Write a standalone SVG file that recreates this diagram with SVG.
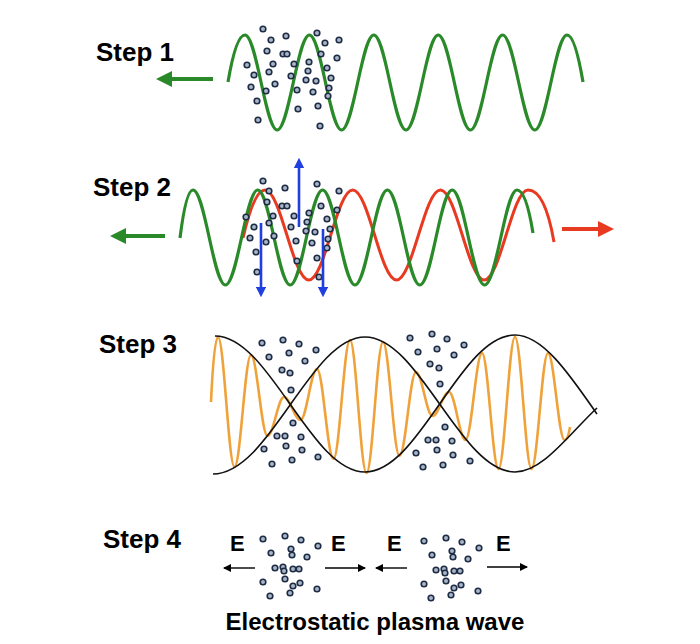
<svg xmlns="http://www.w3.org/2000/svg" width="700" height="644" viewBox="0 0 700 644">
<style>
.lbl{font-family:"Liberation Sans",Arial,sans-serif;font-weight:bold;font-size:26px;fill:#000}
.t{font-family:"Liberation Sans",Arial,sans-serif;font-weight:bold;font-size:24px;fill:#000}
.e{font-family:"Liberation Sans",Arial,sans-serif;font-weight:bold;font-size:22px;fill:#000}
.g{fill:none;stroke:#2a8a2a;stroke-width:3.2}
.r{fill:none;stroke:#e83a20;stroke-width:3}
.o{fill:none;stroke:#f0a23a;stroke-width:2.6}
.k{fill:none;stroke:#111;stroke-width:1.6}
.d circle{r:2.8;fill:#a9b6c8;stroke:#1d2b44;stroke-width:1.6}
</style>
<defs>
<marker id="ag" markerWidth="4" markerHeight="4" refX="2" refY="2" orient="auto"><path d="M0,0L4,2L0,4z" fill="#2a8a2a"/></marker>
<marker id="ar" markerWidth="4" markerHeight="4" refX="2" refY="2" orient="auto"><path d="M0,0L4,2L0,4z" fill="#e83a20"/></marker>
<marker id="ab" markerWidth="4" markerHeight="4" refX="2" refY="2" orient="auto"><path d="M0,0L4,2L0,4z" fill="#1f3fe0"/></marker>
<marker id="ak" markerWidth="8" markerHeight="8" refX="7" refY="4" orient="auto" markerUnits="userSpaceOnUse"><path d="M0,0L8,4L0,8z" fill="#000"/></marker>
</defs>
<rect width="700" height="644" fill="#fff"/>
<g id="step1">
<text class="lbl" x="96" y="61">Step 1</text>
<path class="g" d="M228,82 Q236,35 245,35 C256.7,35 265.5,130 277.2,130 S297.7,35 309.4,35 S329.9,130 341.6,130 S362.1,35 373.8,35 S394.3,130 406,130 S426.5,35 438.2,35 S458.7,130 470.4,130 S490.9,35 502.6,35 S523.1,130 534.8,130 S555.3,35 567,35 Q575,35 583,82"/>
<line x1="213" y1="79" x2="164" y2="79" stroke="#2a8a2a" stroke-width="4" marker-end="url(#ag)"/>
<g class="d">
<circle cx="263" cy="29"/><circle cx="271" cy="40"/><circle cx="286" cy="36"/><circle cx="317" cy="33"/><circle cx="325" cy="43"/><circle cx="339" cy="40"/><circle cx="267" cy="51"/><circle cx="283" cy="54"/><circle cx="287" cy="54"/><circle cx="321" cy="54"/><circle cx="337" cy="58"/><circle cx="247" cy="65"/><circle cx="273" cy="64"/><circle cx="294" cy="64"/><circle cx="309" cy="62"/><circle cx="269" cy="72"/><circle cx="254" cy="75"/><circle cx="291" cy="76"/><circle cx="308" cy="71"/><circle cx="327" cy="68"/><circle cx="306" cy="80"/><circle cx="316" cy="81"/><circle cx="331" cy="78"/><circle cx="251" cy="87"/><circle cx="275" cy="84"/><circle cx="266" cy="91"/><circle cx="297" cy="90"/><circle cx="313" cy="92"/><circle cx="329" cy="88"/><circle cx="328" cy="96"/><circle cx="257" cy="101"/><circle cx="318" cy="106"/><circle cx="298" cy="109"/><circle cx="258" cy="120"/><circle cx="320" cy="126"/>
</g>
</g>
<g id="step2">
<text class="lbl" x="93" y="196">Step 2</text>
<path class="r" d="M243,238 Q254,190 265,190 C281,190 292.8,280 308.8,280 S336.7,190 352.7,190 S380.5,280 396.5,280 S424.4,190 440.4,190 S468.2,280 484.2,280 S512,190 528,190 Q545,190 554,242"/>
<path class="g" d="M180,238 Q186,190 193,190 C204.8,190 213.6,285 225.4,285 S246,190 257.8,190 S278.4,285 290.2,285 S310.8,190 322.6,190 S343.2,285 355,285 S375.6,190 387.4,190 S408,285 419.8,285 S440.4,190 452.2,190 S472.8,285 484.6,285 S505.2,190 517,190 Q526,190 533,233"/>
<line x1="562" y1="229" x2="606" y2="229" stroke="#e83a20" stroke-width="4" marker-end="url(#ar)"/>
<line x1="165" y1="236" x2="118" y2="236" stroke="#2a8a2a" stroke-width="4" marker-end="url(#ag)"/>
<g class="d">
<circle cx="263" cy="181"/><circle cx="285" cy="188"/><circle cx="317" cy="184"/><circle cx="339" cy="191"/><circle cx="269" cy="191"/><circle cx="267" cy="202"/><circle cx="282" cy="206"/><circle cx="287" cy="206"/><circle cx="321" cy="206"/><circle cx="337" cy="210"/><circle cx="246" cy="217"/><circle cx="273" cy="216"/><circle cx="294" cy="216"/><circle cx="309" cy="213"/><circle cx="254" cy="227"/><circle cx="269" cy="223"/><circle cx="291" cy="227"/><circle cx="307" cy="222"/><circle cx="327" cy="219"/><circle cx="250" cy="238"/><circle cx="274" cy="236"/><circle cx="306" cy="231"/><circle cx="315" cy="232"/><circle cx="330" cy="229"/><circle cx="266" cy="242"/><circle cx="296" cy="241"/><circle cx="312" cy="243"/><circle cx="328" cy="239"/><circle cx="256" cy="252"/><circle cx="317" cy="258"/><circle cx="327" cy="248"/><circle cx="297" cy="261"/><circle cx="257" cy="272"/><circle cx="319" cy="277"/>
</g>
<line x1="299" y1="227" x2="299" y2="163" stroke="#1f3fe0" stroke-width="2.6" marker-end="url(#ab)"/>
<line x1="261" y1="223" x2="261" y2="292" stroke="#1f3fe0" stroke-width="2.6" marker-end="url(#ab)"/>
<line x1="323" y1="229" x2="323" y2="292" stroke="#1f3fe0" stroke-width="2.6" marker-end="url(#ab)"/>
</g>
<g id="step3">
<text class="lbl" x="99" y="353">Step 3</text>
<path class="o" d="M211,402 Q214,337 218,337 C224,337 228.5,467 234.5,467 S245,355 251,355 S261.5,436 267.5,436 S278,397 284,397 S294.5,420 300.5,420 S311,369 317,369 S327.5,459 333.5,459 S344,340 350,340 S360.5,473 366.5,473 S377,342 383,342 S393.5,456 399.5,456 S410,372 416,372 S426.5,416 432.5,416 S443,392 449,392 S459.5,440 465.5,440 S476,353 482,353 S492.5,469 498.5,469 S509,337 515,337 S525.5,469 531.5,469 S542,353 548,353 S558.5,440 564.5,440 Q568,440 570,427"/>
<path class="k" d="M215,336 C269.6,336 310.4,472 365,472 S460.4,335 515,335 C543,335 570,375 597,414"/>
<path class="k" d="M213,474 C269.6,474 310.4,337 365,337 S460.4,472 515,472 C543,472 570,433 597,408"/>
<g class="d">
<circle cx="262" cy="343"/><circle cx="283" cy="340"/><circle cx="299" cy="344"/><circle cx="316" cy="350"/><circle cx="269" cy="357"/><circle cx="289" cy="353"/><circle cx="305" cy="361"/><circle cx="282" cy="370"/><circle cx="290" cy="373"/><circle cx="291" cy="390"/>
<circle cx="293" cy="423"/><circle cx="277" cy="436"/><circle cx="285" cy="436"/><circle cx="301" cy="437"/><circle cx="264" cy="449"/><circle cx="286" cy="446"/><circle cx="302" cy="450"/><circle cx="318" cy="457"/><circle cx="272" cy="464"/><circle cx="292" cy="460"/>
<circle cx="410" cy="338"/><circle cx="432" cy="334"/><circle cx="447" cy="339"/><circle cx="464" cy="345"/><circle cx="418" cy="352"/><circle cx="437" cy="349"/><circle cx="454" cy="355"/><circle cx="430" cy="364"/><circle cx="439" cy="368"/><circle cx="440" cy="384"/>
<circle cx="445" cy="427"/><circle cx="428" cy="440"/><circle cx="436" cy="440"/><circle cx="452" cy="441"/><circle cx="416" cy="453"/><circle cx="437" cy="450"/><circle cx="453" cy="455"/><circle cx="470" cy="461"/><circle cx="423" cy="467"/><circle cx="443" cy="465"/>
</g>
</g>
<g id="step4">
<text class="lbl" x="103" y="548">Step 4</text>
<text class="e" x="230" y="551">E</text><text class="e" x="331" y="551">E</text><text class="e" x="387" y="551">E</text><text class="e" x="496" y="551">E</text>
<g id="cluster1" class="d">
<circle cx="263" cy="539"/><circle cx="285" cy="536"/><circle cx="301" cy="540"/><circle cx="318" cy="546"/><circle cx="271" cy="553"/><circle cx="291" cy="549"/><circle cx="292" cy="555"/><circle cx="307" cy="557"/><circle cx="275" cy="568"/><circle cx="283" cy="567"/><circle cx="284" cy="571"/><circle cx="293" cy="569"/><circle cx="299" cy="569"/><circle cx="285" cy="579"/><circle cx="263" cy="582"/><circle cx="293" cy="586"/><circle cx="300" cy="583"/><circle cx="317" cy="589"/><circle cx="270" cy="596"/><circle cx="290" cy="593"/>
</g>
<g id="cluster2" class="d" transform="translate(161,2)">
<circle cx="263" cy="539"/><circle cx="285" cy="536"/><circle cx="301" cy="540"/><circle cx="318" cy="546"/><circle cx="271" cy="553"/><circle cx="291" cy="549"/><circle cx="292" cy="555"/><circle cx="307" cy="557"/><circle cx="275" cy="568"/><circle cx="283" cy="567"/><circle cx="284" cy="571"/><circle cx="293" cy="569"/><circle cx="299" cy="569"/><circle cx="285" cy="579"/><circle cx="263" cy="582"/><circle cx="293" cy="586"/><circle cx="300" cy="583"/><circle cx="317" cy="589"/><circle cx="270" cy="596"/><circle cx="290" cy="593"/>
</g>
<g stroke="#000" stroke-width="1.4" fill="none">
<line x1="255" y1="568" x2="224" y2="568" marker-end="url(#ak)"/>
<line x1="325" y1="568" x2="365" y2="568" marker-end="url(#ak)"/>
<line x1="407" y1="568" x2="376" y2="568" marker-end="url(#ak)"/>
<line x1="487" y1="567" x2="527" y2="567" marker-end="url(#ak)"/>
</g>
<text class="t" x="375" y="630" text-anchor="middle">Electrostatic plasma wave</text>
</g>
</svg>
